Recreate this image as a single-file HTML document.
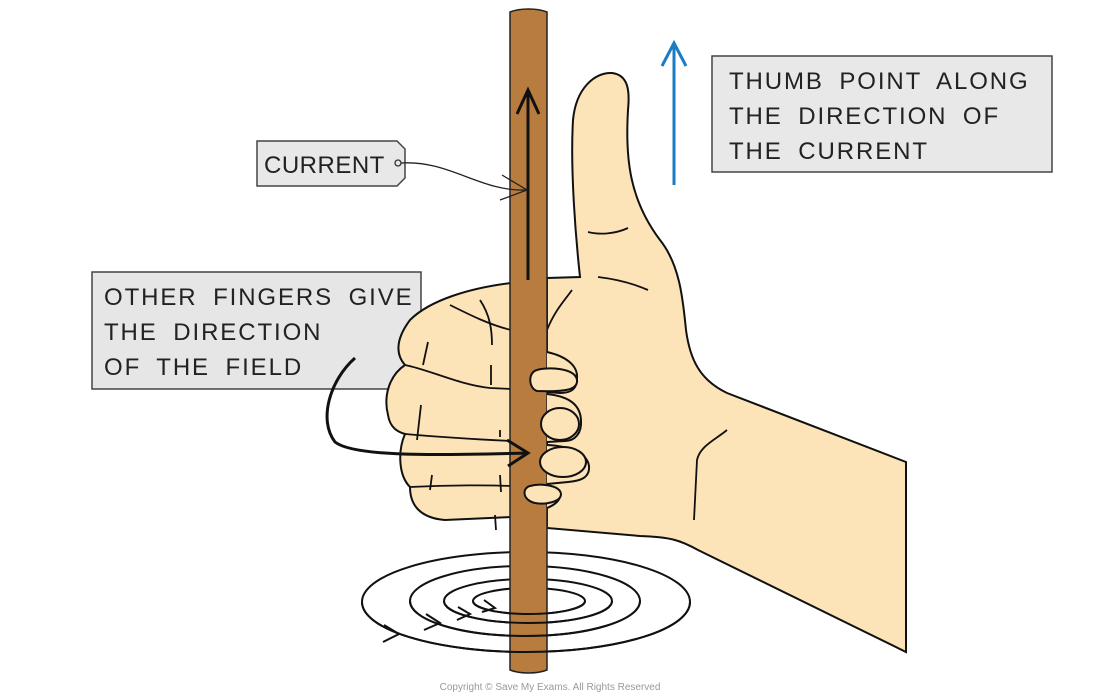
<!DOCTYPE html>
<html><head><meta charset="utf-8"><style>
html,body{margin:0;padding:0;background:#fff}
svg{display:block}
text{font-family:"Liberation Sans",sans-serif;font-size:24px;fill:#222;letter-spacing:1.9px;word-spacing:7px}
</style></head><body>
<svg width="1100" height="694" viewBox="0 0 1100 694" xmlns="http://www.w3.org/2000/svg">
<rect x="712" y="56" width="340" height="116" fill="#e8e8e8" stroke="#444" stroke-width="1.5"/>
<text x="729" y="89">THUMB POINT ALONG</text>
<text x="729" y="124">THE DIRECTION OF</text>
<text x="729" y="159">THE CURRENT</text>
<rect x="92" y="272" width="329" height="117" fill="#e6e6e6" stroke="#444" stroke-width="1.5"/>
<text x="104" y="305">OTHER FINGERS GIVE</text>
<text x="104" y="340">THE DIRECTION</text>
<text x="104" y="375">OF THE FIELD</text>
<path d="M257,141 L397,141 L405,149 L405,178 L397,186 L257,186 Z" fill="#e8e8e8" stroke="#444" stroke-width="1.5"/>
<text x="264" y="173" style="letter-spacing:0.5px">CURRENT</text>
<circle cx="398" cy="163" r="3" fill="none" stroke="#333" stroke-width="1.3"/>
<path d="M674,185 L674,43 M662,66 L674,43 L686,66" fill="none" stroke="#1a7dc4" stroke-width="3"/>
<g fill="none" stroke="#111" stroke-width="2">
<ellipse cx="526" cy="602" rx="164" ry="50"/>
<ellipse cx="525" cy="601" rx="115" ry="35"/>
<ellipse cx="528" cy="601" rx="84" ry="22"/>
<ellipse cx="529" cy="601" rx="56" ry="13"/>
</g>
<path d="M547,278 L580,277 C576,240 570,170 573,120 C576,88 595,72 612,73 C628,75 630,90 628,110 C625,160 630,200 660,240 C680,265 683,300 686,330 C690,360 700,380 727,393 L906,462 L906,652 L698,550 C680,540 670,537 640,536 L547,528 Z" fill="#fde3b8" stroke="#111" stroke-width="2"/>
<path d="M511,283 C470,288 430,300 410,320 C395,340 396,355 405,365 C390,375 383,395 388,415 C390,428 398,432 405,434 C398,450 398,475 410,487 C410,505 420,518 445,520 L511,517 Z" fill="#fde3b8" stroke="#111" stroke-width="2"/>
<g fill="none" stroke="#111" stroke-width="1.8">
<path d="M405,365 C430,370 460,385 490,388 L511,389"/>
<path d="M405,434 C450,438 490,440 511,441"/>
<path d="M410,487 C450,485 490,485 511,486"/>
<path d="M588,232 C600,235 615,234 628,228"/>
<path d="M598,277 C615,279 632,283 648,290"/>
<path d="M727,430 C715,440 700,446 697,460 L694,520"/>
<path d="M450,305 C470,315 490,325 511,330"/>
<path d="M480,300 C490,315 492,330 492,345"/>
<path d="M547,330 C555,310 565,300 572,290"/>
<path d="M428,342 L423,365"/>
<path d="M491,365 L491,385"/>
<path d="M421,405 L417,440"/>
<path d="M500,430 L500,437"/>
<path d="M432,475 L430,490"/>
<path d="M500,475 L501,492"/>
<path d="M495,515 L496,530"/>
</g>
<path d="M510,12 C520,8 537,8 547,12 L547,670 C537,674 520,674 510,670 Z" fill="#b87c3e" stroke="#222" stroke-width="1.5"/>
<path d="M528,280 L528,90 M517,114 L528,90 L539,114" fill="none" stroke="#111" stroke-width="3"/>
<path d="M401,163 C450,160 480,192 527,190" fill="none" stroke="#222" stroke-width="1.3"/>
<path d="M502,175 L527,190 L500,200" fill="none" stroke="#222" stroke-width="1.3"/>
<g fill="#fde3b8" stroke="#111" stroke-width="2">
<path d="M547,352 C565,356 578,365 577,378 C577,390 570,393 560,393 L547,393Z" stroke="none"/>
<path d="M547,352 C565,356 578,365 577,378 C577,390 570,393 560,393 L547,392" fill="none"/>
<path d="M547,394 C565,396 580,402 581,420 C582,433 575,441 565,441 L547,442 Z" stroke="none"/>
<path d="M547,394 C565,396 580,402 581,420 C582,433 575,441 565,441 L547,442" fill="none"/>
<path d="M547,445 C568,446 587,452 589,466 C590,478 580,481 568,482 L547,484 Z" stroke="none"/>
<path d="M547,445 C568,446 587,452 589,466 C590,478 580,481 568,482 L547,484" fill="none"/>
<path d="M547,486 C556,486 562,490 560,497 C558,503 552,506 547,508 Z" stroke="none"/>
<path d="M547,486 C556,486 562,490 560,497 C558,503 552,506 547,508" fill="none"/>
<path d="M537,370 C545,367 575,367 577,380 C578,390 565,392 537,391 C528,388 528,372 537,370Z"/>
<ellipse cx="560" cy="424" rx="19" ry="16"/>
<ellipse cx="563" cy="462" rx="23" ry="15"/>
<path d="M530,486 C540,483 560,485 561,494 C561,502 545,505 535,503 C522,500 522,488 530,486Z"/>
</g>
<g fill="none" stroke="#111" stroke-width="2">
<path d="M362,602 A164,50 0 0 0 690,602"/>
<path d="M410,601 A115,35 0 0 0 640,601"/>
<path d="M444,601 A84,22 0 0 0 612,601"/>
<path d="M473,601 A56,13 0 0 0 585,601"/>
<path d="M384,625 L399,634 L383,642"/>
<path d="M426,614 L440,623 L424,630"/>
<path d="M458,607 L470,614 L457,620"/>
<path d="M484,600 L495,608 L482,612"/>
</g>
<path d="M355,358 C330,380 318,420 335,442 C355,458 450,455 528,453" fill="none" stroke="#111" stroke-width="3"/>
<path d="M507,440 L528,453 L508,466" fill="none" stroke="#111" stroke-width="3"/>
<text x="550" y="690" text-anchor="middle" style="font-size:10px;fill:#999;letter-spacing:0;word-spacing:0">Copyright © Save My Exams. All Rights Reserved</text>
</svg>
</body></html>
